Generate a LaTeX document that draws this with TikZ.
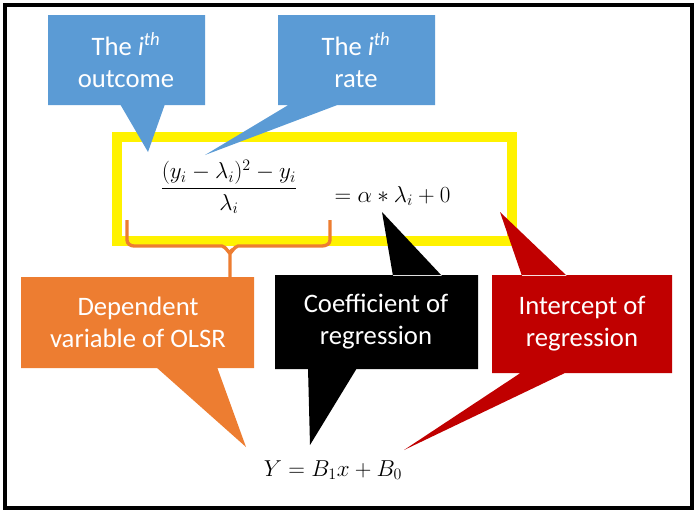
\documentclass[tikz,border=0pt]{standalone}
\usepackage{fontspec}
\newfontfamily\calib{Carlito}
\begin{document}
\begin{tikzpicture}[x=0.75pt,y=-0.75pt,
  lab/.style={font=\calib\fontsize{20}{24}\selectfont,text=white,align=center},
  fm/.style={font=\fontsize{17}{20}\selectfont}]
\useasboundingbox (0,0) rectangle (697,514);
\definecolor{cblue}{RGB}{91,155,213}
\definecolor{corange}{RGB}{237,125,49}
\definecolor{cred}{RGB}{192,0,0}
\draw[line width=3pt] (5,5) rectangle (692,508);
\draw[yellow,line width=7pt,fill=white] (117,137) rectangle (512,241);
% blue callouts
\fill[cblue] (48,15) rectangle (205,105) (120,104) -- (148,152) -- (165,104) -- cycle;
\node[lab] (o) at (126,60) {The \textit{i\textsuperscript{th}}\\outcome};
\fill[cblue] (278,15) rectangle (435,105) (290,104) -- (205,155) -- (340,104) -- cycle;
\node[lab] (r) at (356,60) {The \textit{i\textsuperscript{th}}\\rate};
% formula
\node[fm] (f) at (229,187) {$\displaystyle\frac{(y_i-\lambda_i)^2-y_i}{\lambda_i}$};
\node[fm,anchor=west] (g) at (330,196) {$=\alpha*\lambda_i+0$};
% brace
\draw[corange,line width=2.5pt] (127,220) -- (127,240) to[out=-90,in=180] (134,246) -- (222,246) to[out=0,in=-90] (230,252) -- (230,278)
  (230,252) to[out=-90,in=180] (238,246) -- (322,246) to[out=0,in=-90] (330,240) -- (330,220);
% orange
\fill[corange] (21,277) rectangle (254,368) (156,367) -- (246,447) -- (217,367) -- cycle;
\node[lab] (d) at (138,322) {Dependent\\variable of OLSR};
% black
\fill[black] (275,275) rectangle (478,369) (393,276) -- (382,212) -- (442,276) -- cycle
  (308,368) -- (310,445) -- (357,368) -- cycle;
\node[lab] (c) at (376,322) {Coefficient of\\regression};
% red
\fill[cred] (492,275) rectangle (672,373) (522,276) -- (500,212) -- (567,276) -- cycle
  (522,372) -- (404,450) -- (567,372) -- cycle;
\node[lab] (ic) at (582,324) {Intercept of\\regression};
\node[fm] (y) at (333,470) {$Y=B_1x+B_0$};
\end{tikzpicture}
\end{document}
